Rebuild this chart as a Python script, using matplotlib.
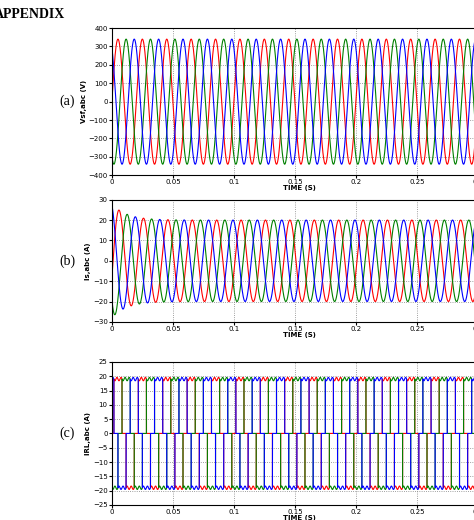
import numpy as np
import matplotlib.pyplot as plt

# waveform parameters
freq = 50.0
v_amp = 340.0
i_amp = 20.0
i_peak_start = 28.0
irl_level = 19.0
t_end = 0.307
colors = ['red', 'green', 'blue']
phase_shift = [0, -2 * np.pi / 3, 2 * np.pi / 3]

t = np.linspace(0, t_end, 6000)
w = 2 * np.pi * freq

fig = plt.figure(figsize=(4.74, 5.2), dpi=100)
fig.text(-0.012, 0.985, 'APPENDIX', fontsize=10, fontweight='bold', family='Liberation Serif', va='top')

boxes = [[0.236, 0.663, 0.79, 0.283], [0.236, 0.381, 0.79, 0.235], [0.236, 0.029, 0.79, 0.275]]
ylabels = ['Vsf,abc (V)', 'Is,abc (A)', 'IRL,abc (A)']
ylims = [(-400, 400, 100), (-30, 30, 10), (-25, 25, 5)]
tags = ['(a)', '(b)', '(c)']

for k, box in enumerate(boxes):
    ax = fig.add_axes(box)
    for c, ph in zip(colors, phase_shift):
        arg = w * t + ph
        if k == 0:
            y = v_amp * np.sin(arg)
        elif k == 1:
            env = i_amp + (i_peak_start - i_amp) * np.exp(-t / 0.012)
            y = env * np.sin(arg - 0.3)
        else:
            s = np.sin(arg)
            y = np.where(s > 0.5, 1, np.where(s < -0.5, -1, 0)) * irl_level
            y = y + 0.6 * np.sign(y) * np.sin(6 * arg)
        ax.plot(t, y, color=c, lw=0.8)
    lo, hi, st = ylims[k]
    ax.set_ylim(lo, hi)
    ax.set_yticks(np.arange(lo, hi + st, st))
    ax.set_xlim(0, t_end)
    ax.set_xticks([0, 0.05, 0.1, 0.15, 0.2, 0.25, 0.3])
    ax.set_xticklabels(['0', '0.05', '0.1', '0.15', '0.2', '0.25', '0.3'])
    ax.tick_params(labelsize=5, length=2, pad=1)
    ax.grid(True, ls=':', color='gray', lw=0.6)
    ax.set_ylabel(ylabels[k], fontsize=5, fontweight='bold', labelpad=1)
    ax.set_xlabel('TIME (S)', fontsize=5, fontweight='bold', labelpad=0)
    fig.text(0.125, box[1] + box[3] / 2, tags[k], fontsize=10, family='Liberation Serif', va='center')

fig.savefig('out.png', dpi=100)
